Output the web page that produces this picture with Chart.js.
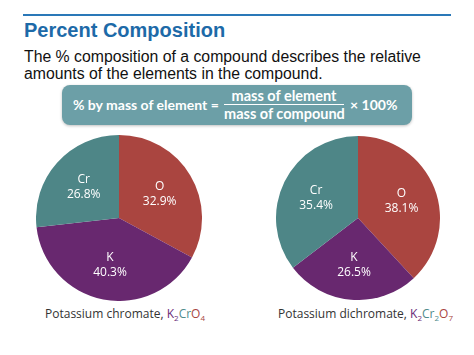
<!DOCTYPE html>
<html>
<head>
<meta charset="utf-8">
<script src="https://cdn.jsdelivr.net/npm/chart.js@4"></script>
<style>
  body { margin: 0; background: #fff; width: 474px; height: 355px; overflow: hidden; position: relative; font-family: "Liberation Sans", Arial, sans-serif; }
  .rule { position: absolute; left: 23px; top: 14px; width: 428px; height: 2px; background: #2a78b8; }
  .title { position: absolute; left: 24px; top: 19px; font-size: 20px; font-weight: bold; color: #1d6aa8; }
  .lead { position: absolute; left: 24px; top: 48px; font-size: 15.8px; line-height: 17px; color: #111; }
  .box { position: absolute; left: 62px; top: 85px; width: 350px; height: 40px; border-radius: 8px; background: #6c9fa7;
         box-shadow: 0 1px 3px rgba(0,0,0,0.25); color: #fff; font-family: Lato, sans-serif; font-weight: bold; font-size: 14px; }
  .box span { position: absolute; white-space: nowrap; }
  .frac { position: absolute; left: 162px; top: 2px; width: 120px; text-align: center; font-size: 14.5px; white-space: nowrap; }
  .frac div { line-height: 17px; }
  .frac .num { border-bottom: 1.5px solid #fff; padding-bottom: 0; }
  canvas { position: absolute; }
  .cap { position: absolute; top: 305px; font-family: "Open Sans", sans-serif; font-size: 12px; color: #333; white-space: nowrap; }
  .cap sub { font-size: 8px; vertical-align: -3px; }
  .k { color: #6a2b78; } .cr { color: #4f8b8c; } .o { color: #a9463f; }
</style>
</head>
<body>
<div class="rule"></div>
<div class="title">Percent Composition</div>
<div class="lead">The % composition of a compound describes the relative<br>amounts of the elements in the compound.</div>
<div class="box">
  <span style="left:11px; top:11px;">% by mass of element =</span>
  <div class="frac"><div class="num">mass of element</div><div>mass of compound</div></div>
  <span style="left:288px; top:11px;">× 100%</span>
</div>
<canvas id="pieA" width="166" height="166" style="left:36px; top:135px;"></canvas>
<canvas id="pieB" width="164" height="164" style="left:276px; top:136px;"></canvas>
<div class="cap" style="left:45px;">Potassium chromate, <span class="k">K<sub>2</sub></span><span class="cr">Cr</span><span class="o">O<sub>4</sub></span></div>
<div class="cap" style="left:278px;">Potassium dichromate, <span class="k">K<sub>2</sub></span><span class="cr">Cr<sub>2</sub></span><span class="o">O<sub>7</sub></span></div>
<script>
// Elements in drawing order (clockwise from 12 o'clock)
var elements = ["O", "K", "Cr"];
var elementColors = ["#aa4540", "#68286f", "#4e8687"];
// Percent by mass
var chromateValues = [32.9, 40.3, 26.8];
var dichromateValues = [38.1, 26.5, 35.4];

// Draw the element symbol and percent inside each slice
var sliceLabels = {
  id: "sliceLabels",
  afterDatasetsDraw: function (chart) {
    var c = chart.ctx;
    var meta = chart.getDatasetMeta(0);
    c.save();
    c.fillStyle = "#fff";
    c.textAlign = "center";
    c.textBaseline = "middle";
    c.font = "12px 'Open Sans', sans-serif";
    meta.data.forEach(function (arc, i) {
      var mid = (arc.startAngle + arc.endAngle) / 2;
      var r = arc.outerRadius * 0.57;
      var x = arc.x + Math.cos(mid) * r;
      var y = arc.y + Math.sin(mid) * r;
      c.fillText(chart.data.labels[i], x, y - 7);
      c.fillText(chart.data.datasets[0].data[i].toFixed(1) + "%", x, y + 8);
    });
    c.restore();
  }
};

function makePie(id, values) {
  var ctx = document.getElementById(id).getContext("2d");
  return new Chart(ctx, {
    type: "pie",
    data: {
      labels: elements,
      datasets: [{ data: values, backgroundColor: elementColors, borderWidth: 0 }]
    },
    options: {
      responsive: false,
      animation: false,
      layout: { padding: 0 },
      plugins: { legend: { display: false }, tooltip: { enabled: false } }
    },
    plugins: [sliceLabels]
  });
}

makePie("pieA", chromateValues);
makePie("pieB", dichromateValues);
</script>
</body>
</html>
